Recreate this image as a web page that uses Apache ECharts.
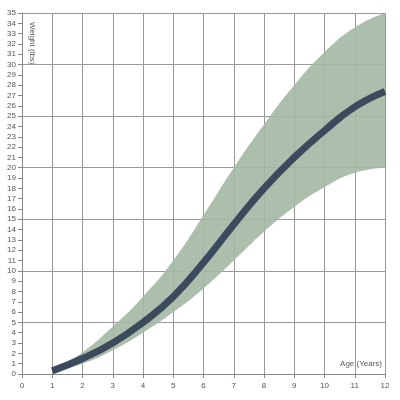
<!DOCTYPE html>
<html><head><meta charset="utf-8">
<script src="https://cdn.jsdelivr.net/npm/echarts@6/dist/echarts.min.js"></script>
<style>html,body{margin:0;background:#fff}#c{width:400px;height:400px}</style>
</head><body><div id="c"></div>
<script>
const ages = ['0','1','2','3','4','5','6','7','8','9','10','11','12'];
const median = ['-',0.3,1.5,3,5,7.5,10.8,14.5,18,21,23.6,25.9,27.4];
const upper = ['-',0.3,2.1,4.6,7.5,11,15.4,20,24.2,28,31.2,33.6,35];
const lower = ['-',0.3,1,2.3,4,6,8.3,11,13.8,16.2,18.1,19.5,20];
const chart = echarts.init(document.getElementById('c'));
const lab = {fontSize:8,color:'#555',fontFamily:'Liberation Sans'};
chart.setOption({
  animation:false,
  grid:{left:22,right:15,top:13,bottom:26},
  xAxis:{type:'category',data:ages,boundaryGap:false,
    axisLine:{lineStyle:{color:'#888'}},axisTick:{lineStyle:{color:'#888'},length:4},
    axisLabel:Object.assign({margin:8,interval:0},lab),
    splitLine:{show:true,interval:0,lineStyle:{color:'#999',width:1}}},
  yAxis:[{type:'value',min:0,max:35,interval:1,
    axisLine:{show:true,lineStyle:{color:'#888'}},axisTick:{show:true,length:4,lineStyle:{color:'#888'}},
    axisLabel:Object.assign({margin:6},lab),splitLine:{show:false}},
    {type:'value',min:0,max:35,interval:5,position:'left',axisLine:{show:false},axisTick:{show:false},
    axisLabel:{show:false},splitLine:{lineStyle:{color:'#999',width:1}}}],
  graphic:[
    {type:'text',left:28,top:22,rotation:-Math.PI/2,style:{text:'Weight (lbs)',fontSize:8,fill:'#555',fontFamily:'Liberation Sans'}},
    {type:'text',right:18,top:360,style:{text:'Age (Years)',fontSize:8,fill:'#555',fontFamily:'Liberation Sans'}}
  ],
  series:[
    {type:'line',data:lower,stack:'b',smooth:true,symbol:'none',lineStyle:{opacity:0}},
    {type:'line',data:upper.map((u,i)=>u==='-'?'-':+(u-lower[i]).toFixed(2)),stack:'b',smooth:true,symbol:'none',lineStyle:{opacity:0},
      areaStyle:{color:'#a3b7a3',opacity:0.9}},
    {type:'line',data:median,smooth:true,symbol:'none',lineStyle:{color:'#3c4a5e',width:7}}
  ]
});
</script></body></html>
